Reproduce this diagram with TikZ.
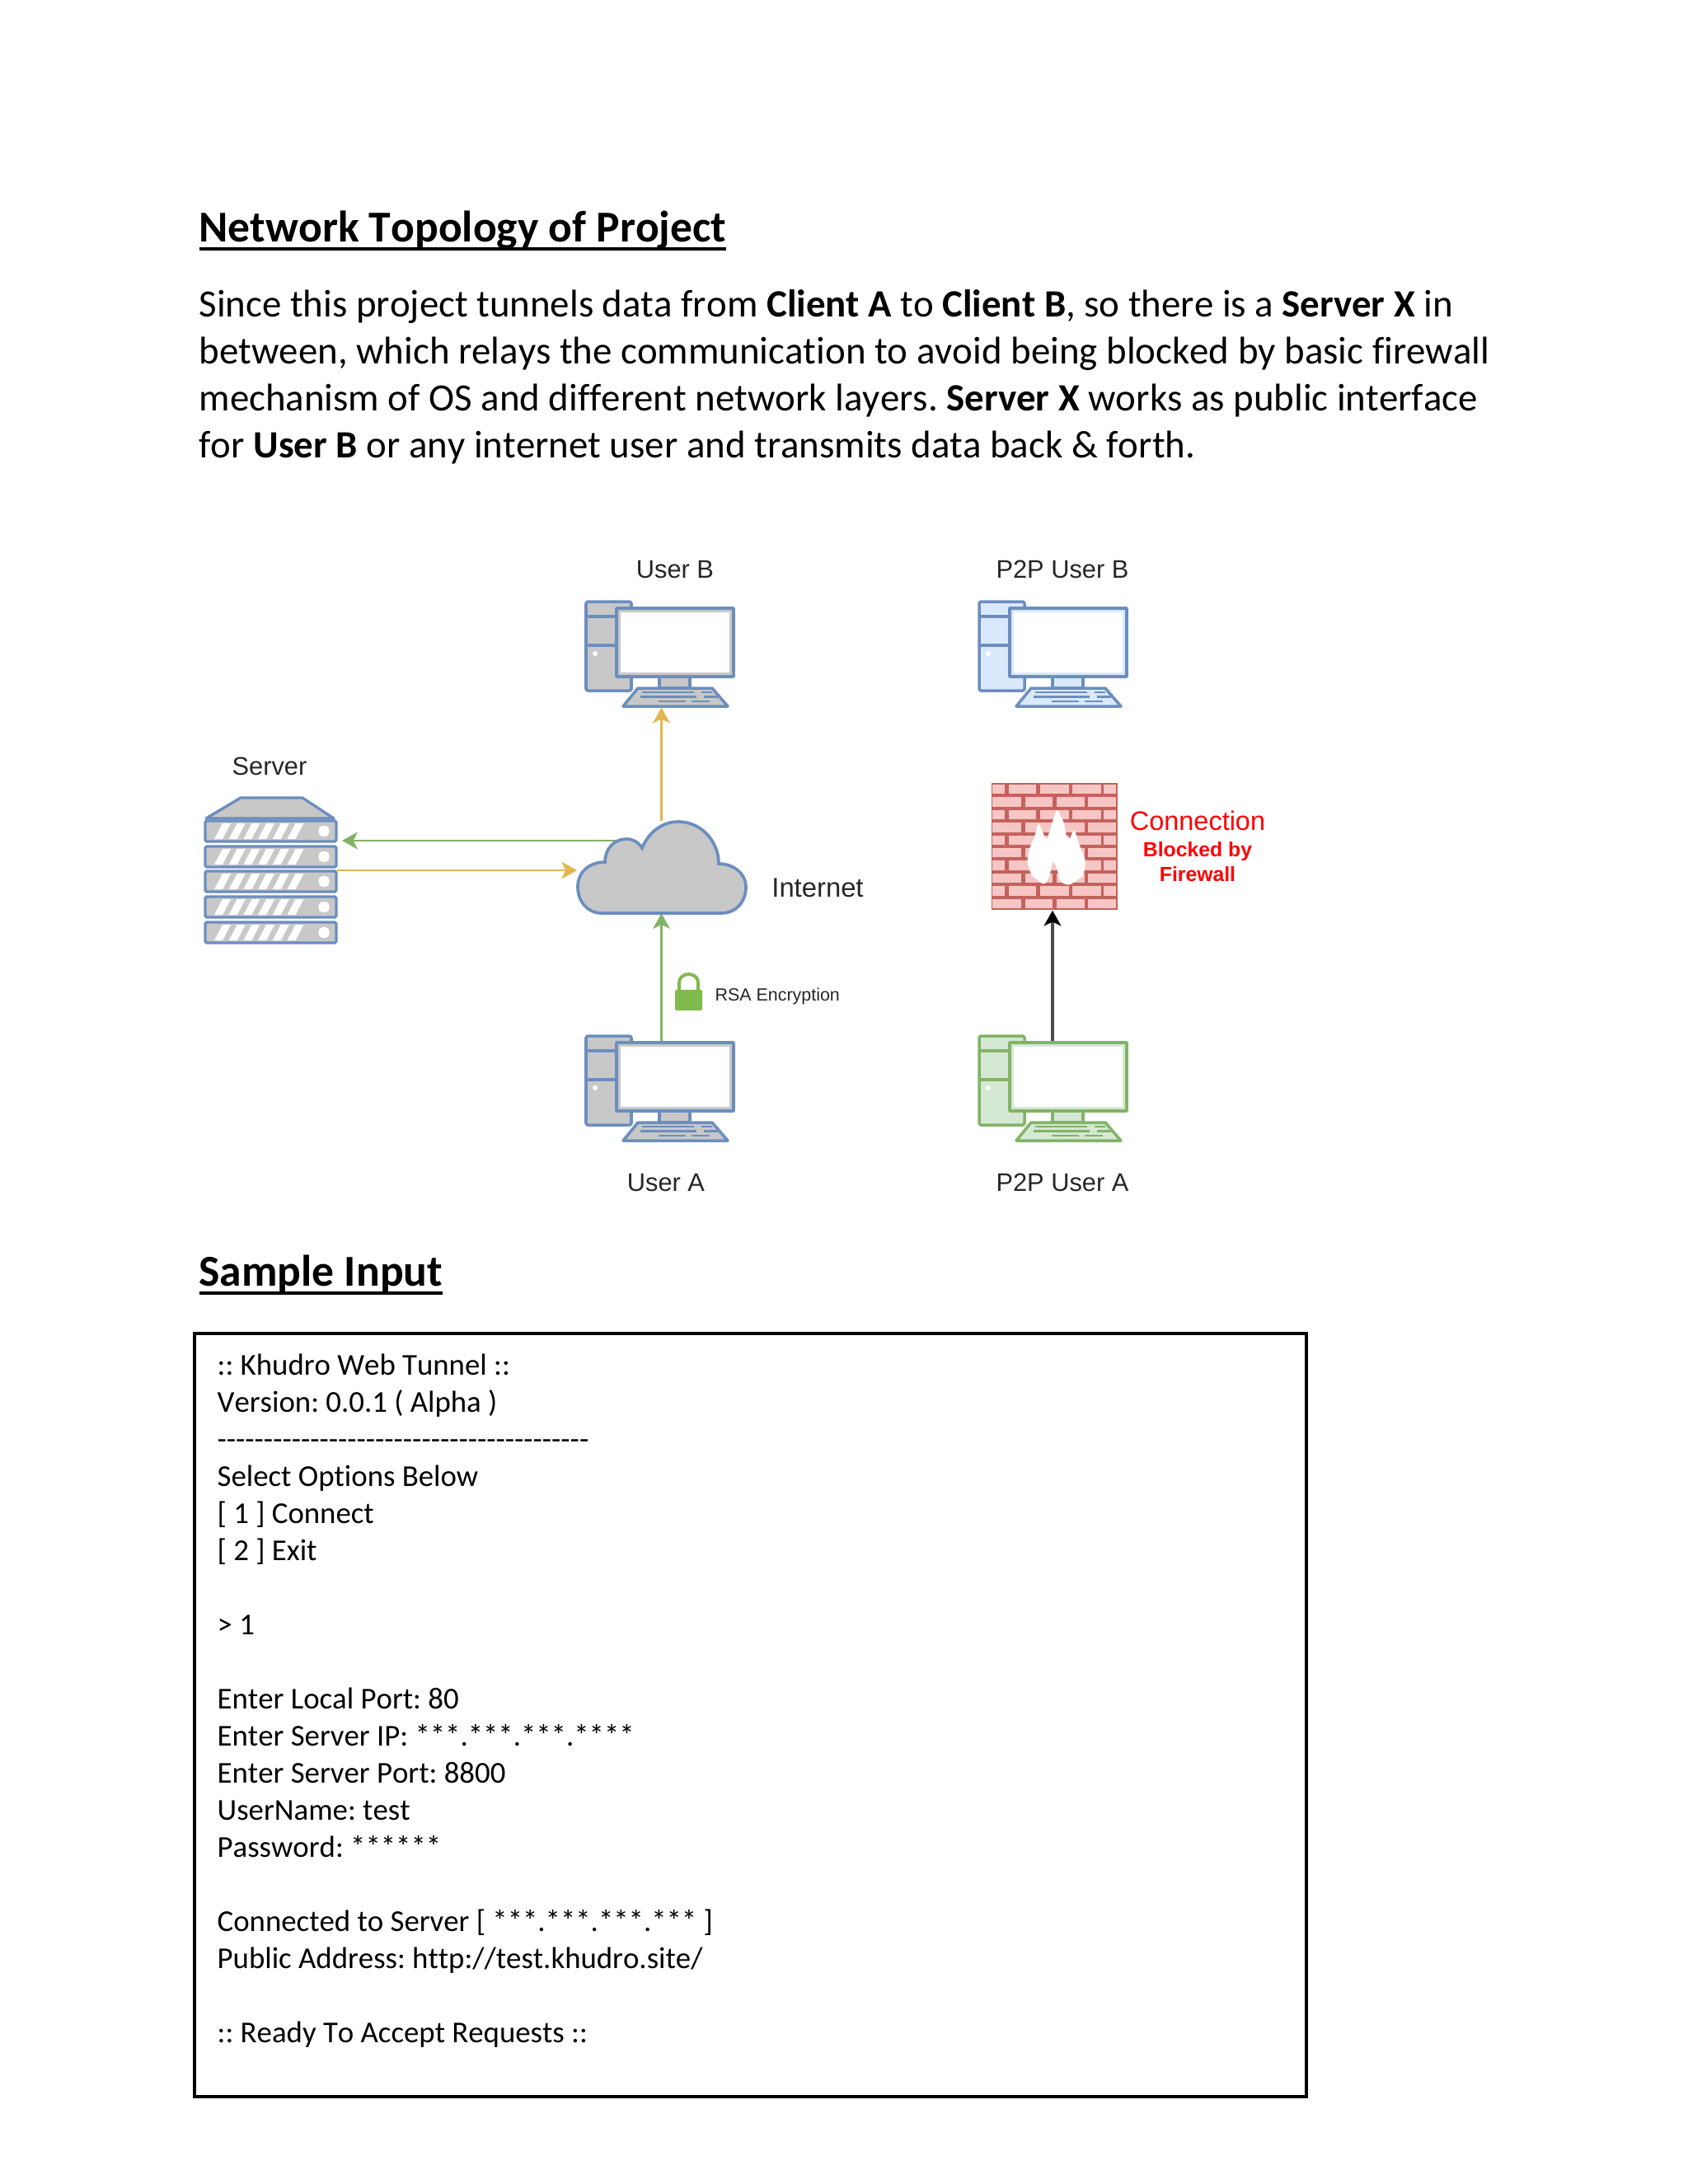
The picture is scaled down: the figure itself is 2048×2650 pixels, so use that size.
\documentclass[tikz,border=0pt]{standalone}
\usepackage{fontspec}
\usetikzlibrary{arrows.meta}
\newfontfamily\bodyfont[Ligatures=NoCommon,Kerning=Off]{Carlito}
\newfontfamily\diafont{Liberation Sans}
\definecolor{edgeblue}{HTML}{6C8EBF}
\definecolor{fillgray}{HTML}{C8C8C8}
\definecolor{fillblue}{HTML}{DAE8FC}
\definecolor{edgegreen}{HTML}{82B366}
\definecolor{fillgreen}{HTML}{D5E8D4}
\definecolor{edgered}{HTML}{C4625E}
\definecolor{fillred}{HTML}{F6C6C4}
\definecolor{arrowgold}{HTML}{E0B64F}
\definecolor{arrowgreen}{HTML}{82B366}
\definecolor{lockgreen}{HTML}{7FBA4C}
\newsavebox\ulbox
\newcommand\ulined[1]{\sbox\ulbox{#1}\rlap{\rule[-3pt]{\wd\ulbox}{1.05pt}}\usebox\ulbox}
\frenchspacing
\tikzset{
  txt/.style={inner sep=0pt,anchor=base west,font=\bodyfont\fontsize{14}{16}\selectfont},
  head/.style={inner sep=0pt,anchor=base west,font=\bodyfont\bfseries\fontsize{16}{18}\selectfont},
  boxtxt/.style={inner sep=0pt,anchor=base west,font=\bodyfont\fontsize{11}{13}\selectfont},
  lab/.style={inner sep=0pt,anchor=base,font=\diafont\fontsize{9.2}{11}\selectfont,text=black!85},
  redlab/.style={inner sep=0pt,anchor=base,text=red},
  anchorbox/.style={inner sep=0pt,minimum width=#1,draw=none},
  linkgold/.style={draw=arrowgold,line width=.85pt,-{Stealth[length=5.6pt,width=6.2pt,inset=1.5pt]}},
  linkgreen/.style={draw=arrowgreen,line width=.85pt,-{Stealth[length=5.6pt,width=6.2pt,inset=1.5pt]}},
  linkblack/.style={draw=black!70,line width=1pt,-{Stealth[length=5.6pt,width=6.2pt,inset=1.5pt,color=black]}},
}
% computer: origin, stroke, fill
\newcommand\computer[3]{%
\begin{scope}[shift={(#1)},draw=#2,line width=1.05pt,line join=round]
 \filldraw[fill=#3,rounded corners=.7pt] (0,0) rectangle (55,108);
 \draw (0,18) -- (55,18) (0,53) -- (55,53);
 \fill[white] (11,63) circle (3);
 \filldraw[fill=#3] (89,91) rectangle (126,105);
 \filldraw[fill=#3] (63,105) -- (153,105) -- (172,127) -- (45,127) -- cycle;
 \draw[line width=.85pt] (68,110) -- (131,110) (140,110) -- (153,110) (66,115.5) -- (134,115.5) (143,115.5) -- (160,115.5) (88,121) -- (121,121) (128,121) -- (150,121);
 \filldraw[fill=#3] (37,8) rectangle (179,91);
 \fill[white] (42,13) rectangle (174,86);
\end{scope}}
% server rack row: y
\newcommand\rackrow[1]{%
 \filldraw[fill=fillgray,draw=edgeblue,line width=1pt,rounded corners=.5pt] (249,#1) rectangle (408,#1+25);
 \foreach \i in {0,...,5}{\fill[white] ({260+17.7*\i},#1+22) -- ({270+17.7*\i},#1+22) -- ({280+17.7*\i},#1+3) -- ({270+17.7*\i},#1+3) -- cycle;}
 \fill[white,rounded corners=1.5pt] (386.5,#1+6) rectangle (399.5,#1+19);
}
\begin{document}
\begin{tikzpicture}[x=0.2988pt,y=-0.2988pt]
\useasboundingbox (0,0) rectangle (2048,2650);
\fill[white] (0,0) rectangle (2048,2650);
% --- text ---
\node[head] (title) at (241,293.5) {\ulined{Network Topology of Project}};
\node[txt] (p1) at (241,384) {Since this project tunnels data from \textbf{Client A} to \textbf{Client B}, so there is a \textbf{Server X} in};
\node[txt] (p2) at (241,441) {between, which relays the communication to avoid being blocked by basic firewall};
\node[txt] (p3) at (241,498) {mechanism of OS and different network layers. \textbf{Server X} works as public interface};
\node[txt] (p4) at (241,555) {for \textbf{User B} or any internet user and transmits data back \& forth.};
\node[head] (sample) at (241,1560.5) {\ulined{Sample Input}};
% --- sample box ---
\draw[line width=1.4pt] (236,1618) rectangle (1585,2544);
\node[boxtxt] (b1) at (263,1668.5) {:: Khudro Web Tunnel ::};
\node[boxtxt] (b2) at (263,1713.5) {Version: 0.0.1 ( Alpha )};
\node[boxtxt] (b3) at (263,1758.5) {----------------------------------------};
\node[boxtxt] (b4) at (263,1803.5) {Select Options Below};
\node[boxtxt] (b5) at (263,1848.5) {[ 1 ] Connect};
\node[boxtxt] (b6) at (263,1893.5) {[ 2 ] Exit};
\node[boxtxt] (b7) at (263,1983.5) {> 1};
\node[boxtxt] (b8) at (263,2073.5) {Enter Local Port: 80};
\node[boxtxt] (b9) at (263,2118.5) {Enter Server IP: ***.***.***.****};
\node[boxtxt] (b10) at (263,2163.5) {Enter Server Port: 8800};
\node[boxtxt] (b11) at (263,2208.5) {UserName: test};
\node[boxtxt] (b12) at (263,2253.5) {Password: ******};
\node[boxtxt] (b13) at (263,2343.5) {Connected to Server [ ***.***.***.*** ]};
\node[boxtxt] (b14) at (263,2388.5) {Public Address: http://test.khudro.site/};
\node[boxtxt] (b15) at (263,2478.5) {:: Ready To Accept Requests ::};
% --- anchor nodes ---
\node[anchorbox=180*0.2988pt,minimum height=127*0.2988pt] (userB) at (802.5,794.5) {};
\node[anchorbox=180*0.2988pt,minimum height=120*0.2988pt] (userA) at (802.5,1325) {};
\node[anchorbox=180*0.2988pt,minimum height=120*0.2988pt] (p2pA) at (1277,1325) {};
\node[anchorbox=204*0.2988pt,minimum height=111*0.2988pt] (cloud) at (802.5,1052) {};
\node[anchorbox=153*0.2988pt,minimum height=154*0.2988pt] (firewall) at (1277,1027) {};
\coordinate (srvIn) at (415,1020);
\coordinate (srvOut) at (409,1056);
\coordinate (cloudOut) at (749,1020);
\coordinate (cloudIn) at (700,1056);
% --- connectors (behind shapes) ---
\draw[linkgold] (cloud.north) -- (userB.south);
\draw[linkgreen] (cloudOut) -- (srvIn);
\draw[linkgold] (srvOut) -- (cloudIn);
\draw[linkgreen] (userA.north) -- (cloud.south);
\draw[linkblack] (p2pA.north) -- (firewall.south);
% --- computers ---
\computer{711,730}{edgeblue}{fillgray}
\computer{711,1257}{edgeblue}{fillgray}
\computer{1188,730}{edgeblue}{fillblue}
\computer{1188,1257}{edgegreen}{fillgreen}
% --- cloud ---
\filldraw[fill=fillgray,draw=edgeblue,line width=1.1pt]
 (730,1108) -- (875,1108) .. controls (895,1108) and (905,1092) .. (905,1076)
 .. controls (905,1060) and (890,1048) .. (872,1048)
 .. controls (872,1020) and (850,997) .. (823,997)
 .. controls (803,997) and (787,1010) .. (779,1029)
 .. controls (775,1022) and (768,1018) .. (760,1018)
 .. controls (745,1018) and (734,1030) .. (734,1046)
 .. controls (715,1046) and (701,1058) .. (701,1076)
 .. controls (701,1094) and (713,1108) .. (730,1108) -- cycle;
% --- server ---
\filldraw[fill=fillgray,draw=edgeblue,line width=1pt,line join=round] (250,993) -- (292,968) -- (367,968) -- (405,993) -- cycle;
\rackrow{996}\rackrow{1027}\rackrow{1057}\rackrow{1088}\rackrow{1119}
% --- lock ---
\fill[lockgreen,rounded corners=.6pt] (819,1201) rectangle (852,1226);
\draw[lockgreen,line width=1.2pt] (824,1202) -- (824,1192) arc[start angle=180,end angle=0,x radius=11.5,y radius=-10] -- (847,1202);
% --- firewall ---
\fill[edgered] (1203,950) rectangle (1356,1104);
\begin{scope}[shift={(1190,940)},x=0.0996pt,y=-0.0996pt]
 \foreach \r in {0,2,4,6,8}{
  \foreach \a/\b in {43/87,103/202,216/320,334/437,448/492}{\fill[fillred] (\a,{36+46.2*\r}) rectangle (\b,{70+46.2*\r});}
 }
 \foreach \r in {1,3,5,7,9}{
  \foreach \a/\b in {43/147,161/260,275/377,390/492}{\fill[fillred] (\a,{36+46.2*\r}) rectangle (\b,{70+46.2*\r});}
 }
 \fill[white,rounded corners=1.2pt] (232,402) -- (185,368) -- (168,320) -- (176,270) -- (196,225) -- (210,172) -- (226,212) -- (240,240) -- (258,180) -- (278,122) -- (302,172) -- (312,226) -- (322,238) -- (340,195) -- (356,248) -- (382,315) -- (374,368) -- (320,404) -- (288,390) -- (276,335) -- (262,312) -- (250,372) -- cycle;
\end{scope}
% --- labels ---
\node[lab] (lUserB) at (819,701) {User B};
\node[lab] (lP2PB) at (1289,701) {P2P User B};
\node[lab] (lServer) at (327,940) {Server};
\node[lab,font=\diafont\fontsize{9.8}{11}\selectfont] (lInternet) at (992,1088) {Internet};
\node[lab,anchor=base west,font=\diafont\fontsize{6.4}{8}\selectfont] (lRSA) at (867,1214) {RSA Encryption};
\node[lab] (lUserA) at (808,1445) {User A};
\node[lab] (lP2PA) at (1289,1445) {P2P User A};
\node[redlab,font=\diafont\fontsize{9.7}{11}\selectfont] (lConn) at (1453,1007) {Connection};
\node[redlab,font=\diafont\bfseries\fontsize{7.4}{9}\selectfont] (lBlock) at (1453,1039) {Blocked by};
\node[redlab,font=\diafont\bfseries\fontsize{7.4}{9}\selectfont] (lFire) at (1453,1069) {Firewall};
\end{tikzpicture}
\end{document}
